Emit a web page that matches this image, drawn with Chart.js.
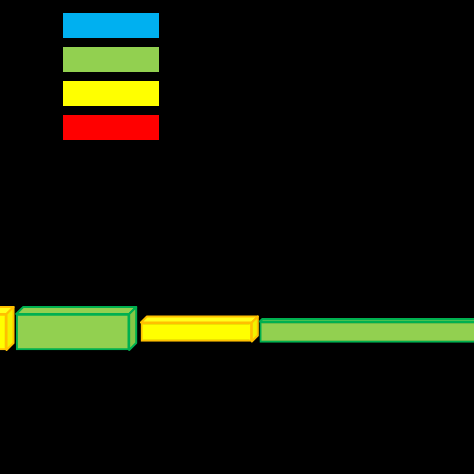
<!DOCTYPE html>
<html lang="en">
  <head>
    <meta charset="UTF-8" />
    <meta name="viewport" content="width=device-width, initial-scale=1.0" />
    <title>Project timeline</title>
    <style>
      html,
      body {
        margin: 0;
        padding: 0;
        background: #000;
      }
      #wrap {
        width: 474px;
        height: 474px;
      }
    </style>
  </head>
  <body>
    <div id="wrap"><canvas id="chart"></canvas></div>
    <script src="https://cdn.jsdelivr.net/npm/chart.js@4.4.0/dist/chart.umd.min.js"></script>
    <script>
      // one row, four phases laid end to end (weeks)
      const rows = ["Schedule"];
      const phases = ["Phase 1", "Phase 2", "Phase 3", "Phase 4"];
      const phaseStart = [0, 6, 35.7, 64];
      const phaseEnd = [3.7, 32.9, 62.1, 125];
      const phaseStatus = [2, 1, 2, 1];

      const statuses = ["Complete", "On track", "At risk", "Late"];
      const statusColors = ["#00b0f0", "#92d050", "#ffff00", "#ff0000"];

      // look of each status box and each phase block
      const faces = [
        { front: "#00b0f0", top: "#33c0f3", side: "#009fd8", edge: "#0070c0" },
        { front: "#92d050", top: "#92d050", side: "#86c646", edge: "#00b050" },
        { front: "#ffff00", top: "#ffff1a", side: "#f2f200", edge: "#ffc000" },
        { front: "#ff0000", top: "#ff3333", side: "#e00000", edge: "#c00000" },
      ];
      const blockLook = [
        { thickness: 36, depth: 7 },
        { thickness: 36, depth: 7 },
        { thickness: 19, depth: 6 },
        { thickness: 21, depth: 2.5 },
      ];

      // draws the top and right faces of every bar so it looks like a box
      const box3d = {
        id: "box3d",
        afterDatasetsDraw(chart) {
          const ctx = chart.ctx;
          chart.data.datasets.forEach((ds, i) => {
            chart.getDatasetMeta(i).data.forEach((bar) => {
              const { x, y, base, height } = bar.getProps(["x", "y", "base", "height"], true);
              const d = ds.depth;
              const l = Math.min(x, base);
              const r = Math.max(x, base);
              const t = y - height / 2;
              const b = y + height / 2;
              ctx.save();
              ctx.lineWidth = ds.borderWidth;
              ctx.strokeStyle = ds.borderColor;
              ctx.lineJoin = "round";
              ctx.beginPath();
              ctx.moveTo(l, t);
              ctx.lineTo(l + d, t - d);
              ctx.lineTo(r + d, t - d);
              ctx.lineTo(r, t);
              ctx.closePath();
              ctx.fillStyle = ds.topColor;
              ctx.fill();
              ctx.stroke();
              ctx.beginPath();
              ctx.moveTo(r, t);
              ctx.lineTo(r + d, t - d);
              ctx.lineTo(r + d, b - d);
              ctx.lineTo(r, b);
              ctx.closePath();
              ctx.fillStyle = ds.sideColor;
              ctx.fill();
              ctx.stroke();
              ctx.restore();
            });
          });
        },
      };

      const datasets = phases.map((name, i) => {
        const f = faces[phaseStatus[i]];
        return {
          label: name,
          data: [[phaseStart[i], phaseEnd[i]]],
          backgroundColor: f.front,
          borderColor: f.edge,
          borderWidth: 2,
          borderSkipped: false,
          barThickness: blockLook[i].thickness,
          depth: blockLook[i].depth,
          topColor: f.top,
          sideColor: f.side,
          clip: false,
        };
      });

      const config = {
        type: "bar",
        data: { labels: rows, datasets: datasets },
        options: {
          indexAxis: "y",
          responsive: true,
          maintainAspectRatio: false,
          animation: false,
          layout: { padding: { left: 54, top: 190, right: 0, bottom: 0 } },
          datasets: { bar: { grouped: false, clip: false } },
          scales: {
            x: { display: false, min: 15, max: 115 },
            y: { display: false },
          },
          plugins: {
            legend: {
              position: "chartArea",
              align: "start",
              onClick: null,
              title: { display: true, text: "", padding: 0, font: { size: 4, lineHeight: 1 } },
              labels: {
                boxWidth: 96,
                boxHeight: 25,
                padding: 9,
                generateLabels: () =>
                  statuses.map((s, i) => ({
                    text: "",
                    fillStyle: statusColors[i],
                    strokeStyle: statusColors[i],
                    lineWidth: 0,
                    hidden: false,
                  })),
              },
            },
            tooltip: {
              callbacks: {
                label: (c) =>
                  c.dataset.label + " (" + statuses[phaseStatus[c.datasetIndex]] + ")",
              },
            },
          },
        },
        plugins: [box3d],
      };

      new Chart(document.getElementById("chart"), config);
    </script>
  </body>
</html>
